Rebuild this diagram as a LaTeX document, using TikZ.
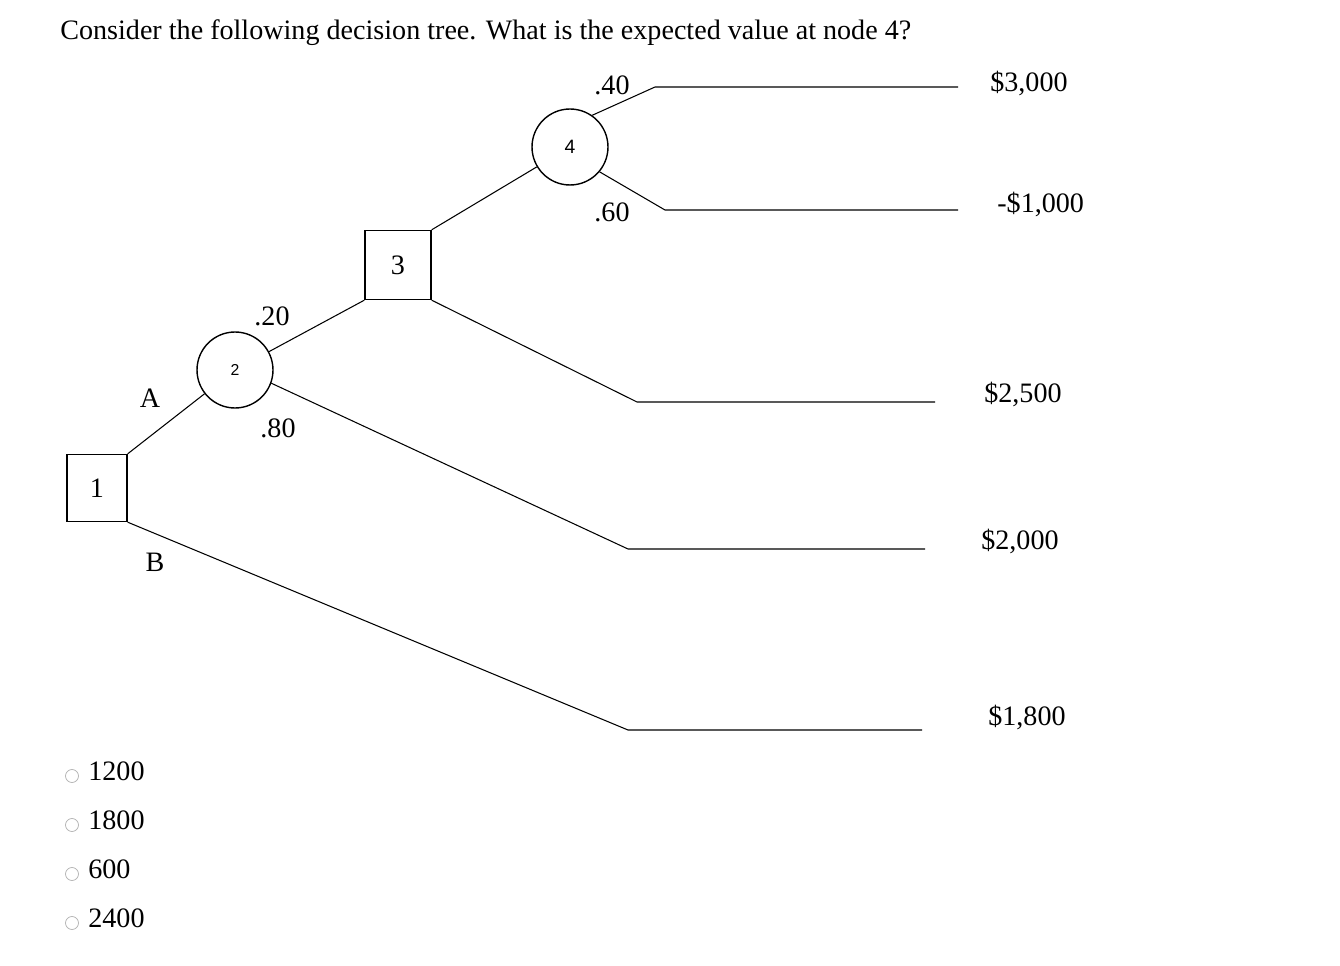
\documentclass[tikz,border=0pt]{standalone}
\usepackage{fontspec}
\setmainfont{Liberation Serif}
\newfontfamily\arialf{Liberation Sans}
\begin{document}
\begin{tikzpicture}[x=0.02cm,y=-0.02cm,
  txt/.style={font=\fontsize{16}{18}\selectfont, inner sep=0pt},
  sq/.style={draw, line width=0.8pt, minimum width=1.2cm, minimum height=1.34cm, inner sep=0pt, font=\fontsize{16}{18}\selectfont},
  cir/.style={draw, circle, line width=0.8pt, minimum size=1.52cm, inner sep=0pt},
  ln/.style={line width=0.6pt},
  radio/.style={draw=gray!60, circle, minimum size=0.26cm, inner sep=0pt}]
\useasboundingbox (0,0) rectangle (1340,966);
\node[txt, anchor=west] (title) at (60,33) {Consider the following decision tree. What is the expected value at node 4?};
\node[sq] (n1) at (97,488) {1};
\node[cir] (n2) at (235,370) {\arialf\fontsize{9}{10}\selectfont 2};
\node[sq, minimum width=1.32cm, minimum height=1.38cm] (n3) at (398,265) {3};
\node[cir] (n4) at (570,147) {\arialf\fontsize{11}{12}\selectfont 4};
\node[txt] (lA) at (150,398) {A};
\node[txt] (lB) at (155,562) {B};
\node[txt] (p20) at (272,316) {.20};
\node[txt] (p80) at (278,428) {.80};
\node[txt] (p40) at (612,85) {.40};
\node[txt] (p60) at (612,212) {.60};
\node[txt, anchor=west] (v1) at (990,83) {\$3,000};
\node[txt, anchor=west] (v2) at (997,204) {-\$1,000};
\node[txt, anchor=west] (v3) at (984,394) {\$2,500};
\node[txt, anchor=west] (v4) at (981,541) {\$2,000};
\node[txt, anchor=west] (v5) at (988,717) {\$1,800};
\coordinate (a1) at (628,730); \coordinate (b1) at (922,730);
\coordinate (a2) at (628,549); \coordinate (b2) at (925,549);
\coordinate (a3) at (637,402); \coordinate (b3) at (935,402);
\coordinate (a4) at (655,87);  \coordinate (b4) at (958,87);
\coordinate (a5) at (665,210); \coordinate (b5) at (958,210);
\draw[ln] (n1.north east) -- (n2);
\draw[ln] (n1.south east) -- (a1) -- (b1);
\draw[ln] (n2) -- (n3.south west);
\draw[ln] (n2.-20) -- (a2) -- (b2);
\draw[ln] (n3.north east) -- (n4);
\draw[ln] (n3.south east) -- (a3) -- (b3);
\draw[ln] (n4.55) -- (a4) -- (b4);
\draw[ln] (n4.-40) -- (a5) -- (b5);
\foreach \y/\t [count=\i] in {771/1200,820/1800,869/600,918/2400}{
  \node[radio] (r\i) at (72,\y+5) {};
  \node[txt, anchor=west] (o\i) at (88,\y) {\t};
}
\end{tikzpicture}
\end{document}
